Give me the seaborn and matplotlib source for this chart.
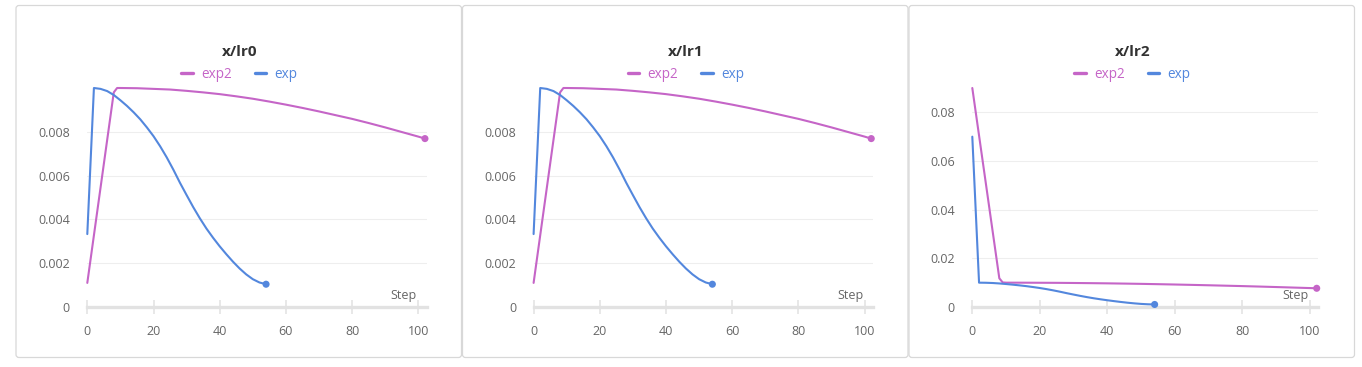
import numpy as np
import pandas as pd
import matplotlib
matplotlib.use("Agg")
import matplotlib.pyplot as plt
from matplotlib.patches import FancyBboxPatch
from matplotlib.lines import Line2D
import seaborn as sns

# ---------------- data ----------------
panel_titles = ["x/lr0", "x/lr1", "x/lr2"]
run_names = ["exp2", "exp"]

exp2_steps = [0, 8, 9, 10, 15, 20, 25, 30, 35, 40, 45, 50, 55, 60, 65, 70,
              75, 80, 85, 90, 95, 100, 102]
lr0_exp2 = [0.0011, 0.0098, 0.0100, 0.0100, 0.00999, 0.00996, 0.00993, 0.00987,
            0.00980, 0.00972, 0.00962, 0.00951, 0.00938, 0.00924, 0.00909,
            0.00893, 0.00876, 0.00859, 0.00840, 0.00820, 0.00799, 0.00778, 0.00769]
lr1_exp2 = [0.0011, 0.0098, 0.0100, 0.0100, 0.00999, 0.00996, 0.00993, 0.00987,
            0.00980, 0.00972, 0.00962, 0.00951, 0.00938, 0.00924, 0.00909,
            0.00893, 0.00876, 0.00859, 0.00840, 0.00820, 0.00799, 0.00778, 0.00769]
lr2_exp2 = [0.0900, 0.0118, 0.0101, 0.0100, 0.00999, 0.00996, 0.00993, 0.00987,
            0.00980, 0.00972, 0.00962, 0.00951, 0.00938, 0.00924, 0.00909,
            0.00893, 0.00876, 0.00859, 0.00840, 0.00820, 0.00799, 0.00778, 0.00769]

exp_steps = [0, 2, 4, 6, 8, 10, 12, 14, 16, 18, 20, 22, 24, 26, 28, 30, 32,
             34, 36, 38, 40, 42, 44, 46, 48, 50, 52, 54]
lr0_exp = [0.00333, 0.01000, 0.00996, 0.00986, 0.00968, 0.00944, 0.00918, 0.00889,
           0.00857, 0.00820, 0.00780, 0.00734, 0.00683, 0.00627, 0.00567, 0.00511,
           0.00456, 0.00405, 0.00358, 0.00316, 0.00277, 0.00241, 0.00207, 0.00176,
           0.00149, 0.00127, 0.00112, 0.00104]
lr1_exp = [0.00333, 0.01000, 0.00996, 0.00986, 0.00968, 0.00944, 0.00918, 0.00889,
           0.00857, 0.00820, 0.00780, 0.00734, 0.00683, 0.00627, 0.00567, 0.00511,
           0.00456, 0.00405, 0.00358, 0.00316, 0.00277, 0.00241, 0.00207, 0.00176,
           0.00149, 0.00127, 0.00112, 0.00104]
lr2_exp = [0.07000, 0.01000, 0.00996, 0.00986, 0.00968, 0.00944, 0.00918, 0.00889,
           0.00857, 0.00820, 0.00780, 0.00734, 0.00683, 0.00627, 0.00567, 0.00511,
           0.00456, 0.00405, 0.00358, 0.00316, 0.00277, 0.00241, 0.00207, 0.00176,
           0.00149, 0.00127, 0.00112, 0.00104]

x_ticks = [0, 20, 40, 60, 80, 100]
y_ticks_small = [0, 0.002, 0.004, 0.006, 0.008]
y_labels_small = ["0", "0.002", "0.004", "0.006", "0.008"]
y_ticks_big = [0, 0.02, 0.04, 0.06, 0.08]
y_labels_big = ["0", "0.02", "0.04", "0.06", "0.08"]

panel_series = [(lr0_exp2, lr0_exp), (lr1_exp2, lr1_exp), (lr2_exp2, lr2_exp)]
panel_ylim = [0.0100, 0.0100, 0.0900]
panel_yticks = [(y_ticks_small, y_labels_small), (y_ticks_small, y_labels_small),
                (y_ticks_big, y_labels_big)]

# ---------------- style ----------------
C_EXP2 = "#C565C7"
C_EXP = "#5387DD"
palette = {"exp2": C_EXP2, "exp": C_EXP}
TICK_COL = "#666666"
AXIS_COL = "#e2e2e2"
GRID_COL = "#eeeeee"

sns.set_theme(style="white")
plt.rcParams["font.family"] = ["Open Sans", "DejaVu Sans"]

W, H = 1362, 367
fig = plt.figure(figsize=(W / 100, H / 100), dpi=100)

# panel geometry in pixels (from left / from top)
panel_x = [16, 462.5, 909]
panel_w = 446.5
panel_top, panel_bot = 5.5, 357.5
axes_left = [87.3, 533.6, 972.3]
axes_w = [339.3, 339.3, 346.1]
axes_top, axes_bottom = 88, 307

for i in range(3):
    # panel card
    card = FancyBboxPatch((panel_x[i] / 100, (H - panel_bot) / 100),
                          (panel_w - 1) / 100, (panel_bot - panel_top) / 100,
                          boxstyle="round,pad=0,rounding_size=0.03",
                          transform=fig.dpi_scale_trans, facecolor="white",
                          edgecolor="#d8d8d8", linewidth=0.9, zorder=-10)
    fig.patches.append(card)

    ax = fig.add_axes([axes_left[i] / W, 1 - axes_bottom / H,
                       axes_w[i] / W, (axes_bottom - axes_top) / H])
    ax.set_facecolor("none")
    ax.set_zorder(5)

    s_exp2, s_exp = panel_series[i]
    df = pd.concat([
        pd.DataFrame({"step": exp2_steps, "value": s_exp2, "run": "exp2"}),
        pd.DataFrame({"step": exp_steps, "value": s_exp, "run": "exp"}),
    ], ignore_index=True)

    sns.lineplot(data=df, x="step", y="value", hue="run", hue_order=run_names,
                 palette=palette, estimator=None, sort=False, linewidth=1.5,
                 legend=False, ax=ax, zorder=3)
    for ln in ax.lines:
        ln.set_clip_on(False)
        ln.set_solid_capstyle("round")
        ln.set_solid_joinstyle("round")

    ends = df.groupby("run", sort=False).tail(1)
    sns.scatterplot(data=ends, x="step", y="value", hue="run", hue_order=run_names,
                    palette=palette, s=26, edgecolor="none", legend=False,
                    ax=ax, zorder=4, clip_on=False)

    ax.set_xlim(0, 102.5)
    ax.set_ylim(0, panel_ylim[i])
    yt, yl = panel_yticks[i]
    ax.set_yticks(yt)
    ax.set_yticklabels(yl)
    ax.set_xticks(x_ticks)
    ax.set_xticklabels([str(t) for t in x_ticks])
    ax.set_xlabel("")
    ax.set_ylabel("")

    for yv in yt[1:]:
        ax.axhline(yv, color=GRID_COL, linewidth=0.8, zorder=1)

    for side in ["top", "right", "left"]:
        ax.spines[side].set_visible(False)
    ax.spines["bottom"].set_color(AXIS_COL)
    ax.spines["bottom"].set_linewidth(2.4)
    ax.spines["bottom"].set_zorder(2)

    ax.tick_params(axis="x", bottom=True, direction="inout", length=9.5, width=1.1,
                   color=AXIS_COL, labelcolor=TICK_COL, labelsize=9, pad=8)
    ax.tick_params(axis="y", left=False, length=0, labelcolor=TICK_COL,
                   labelsize=9, pad=12.5)

    ax.annotate("Step", xy=(1, 0), xycoords="axes fraction", xytext=(-7, 8),
                textcoords="offset points", ha="right", va="center",
                fontsize=9, color=TICK_COL)

    cx = (panel_x[i] + panel_w / 2) / W
    fig.text(cx, 1 - 51.5 / H, panel_titles[i], ha="center", va="center",
             fontsize=11, fontweight="bold", color="#333333")

    handles = [Line2D([], [], color=palette[r], linewidth=2.4) for r in run_names]
    ax.legend(handles, run_names, loc="center", bbox_to_anchor=(cx, 1 - 74 / H),
              bbox_transform=fig.transFigure, ncol=2, frameon=False, fontsize=9.75,
              handlelength=0.85, handletextpad=0.6, columnspacing=1.7,
              labelcolor="linecolor", borderaxespad=0, borderpad=0)

fig.savefig("out.png", dpi=100, facecolor="white")
